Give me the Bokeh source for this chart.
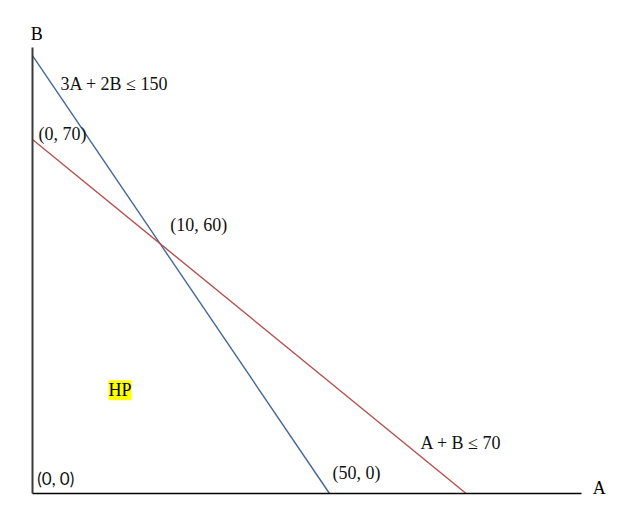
from bokeh.plotting import figure
from bokeh.models import Range1d, Label
from bokeh.core.properties import value
from bokeh.embed import file_html
from bokeh.resources import INLINE

# Constraint lines as drawn (chart units)
blue_A = [0, 50.0]
blue_B = [86.6, 0]
red_A = [0, 73.0]
red_B = [70.0, 0]

# Point / constraint labels
label_texts = ["3A + 2B \u2264 150", "(0, 70)", "(10, 60)", "A + B \u2264 70", "(50, 0)"]
label_x = [4.7, 1.0, 23.2, 65.3, 50.5]
label_y = [80.9, 71.0, 53.0, 9.9, 4.0]

AXIS_X_END = 92.4
AXIS_Y_END = 88.2

PX_X = 5.94
PX_Y = 5.057
W, H = 624, 511
p = figure(width=W, height=H, output_backend="svg", toolbar_location=None,
           x_range=Range1d(-32 / PX_X, (W - 32) / PX_X),
           y_range=Range1d(-(H - 493) / PX_Y, 493 / PX_Y),
           min_border=0)
p.grid.visible = False
p.outline_line_color = None
p.background_fill_color = "white"
p.border_fill_color = "white"

for ax in (p.xaxis, p.yaxis):
    ax.fixed_location = 0
    ax.major_tick_line_color = None
    ax.minor_tick_line_color = None
    ax.major_label_text_font_size = "0px"
    ax.major_label_text_color = None
    ax.axis_label = None
    ax.major_tick_out = 0
    ax.major_tick_in = 0
    ax.major_label_standoff = 0
p.xaxis.bounds = (0, AXIS_X_END)
p.yaxis.bounds = (0, AXIS_Y_END)
p.xaxis.axis_line_color = "#000000"
p.xaxis.axis_line_width = 1.5
p.yaxis.axis_line_color = "#3a3a3a"
p.yaxis.axis_line_width = 2

p.line(blue_A, blue_B, line_color="#44679a", line_width=1.4)
p.line(red_A, red_B, line_color="#b5504f", line_width=1.4)

serif = value("Liberation Serif")
p.text(x=label_x, y=label_y, text=label_texts, text_font=serif, text_font_size="18px",
       text_color="#111111", text_align="left", text_baseline="middle")

p.text(x=[0.8], y=[3.0], text=["(0, 0)"], text_font=value("Lato"), text_font_size="17px",
       text_color="#111111", text_align="left", text_baseline="middle")

p.add_layout(Label(x=12.8, y=20.4, text="HP", text_font="Liberation Serif", text_font_size="18px",
                   text_color="#000000", text_align="left", text_baseline="middle",
                   background_fill_color="#ffff00", padding=0))

p.text(x=[94.3], y=[1.0], text=["A"], text_font=serif, text_font_size="18px",
       text_color="#000000", text_align="left", text_baseline="middle")
p.text(x=[-0.3], y=[90.9], text=["B"], text_font=serif, text_font_size="18px",
       text_color="#000000", text_align="left", text_baseline="middle")

open("out.html", "w").write(file_html(p, INLINE))
